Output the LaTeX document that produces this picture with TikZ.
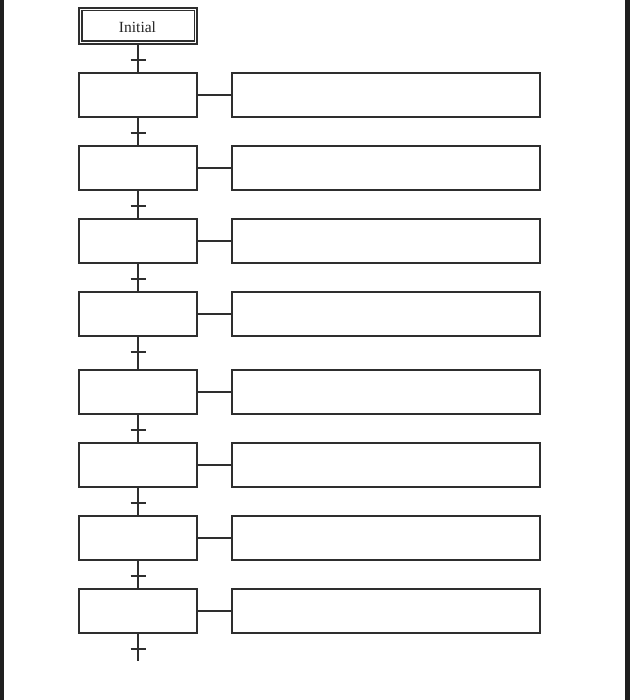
\documentclass[tikz,border=0pt]{standalone}
\usepackage{fontspec}
\setmainfont{Liberation Serif}
\usetikzlibrary{calc}
\begin{document}
\begin{tikzpicture}[x=1pt,y=-1pt,
  line/.style={draw=black!82,line width=1.6pt},
  stepbox/.style={line,rectangle,minimum width=118pt,minimum height=44pt,inner sep=0pt},
  actbox/.style={line,rectangle,minimum width=308pt,minimum height=44pt,inner sep=0pt},
  tick/.style={draw=black!82,line width=1.6pt}]
\useasboundingbox (0,0) rectangle (630,700);
\fill[white] (0,0) rectangle (630,700);
\fill[black!88] (0,0) rectangle (3.5,700);
\fill[black!88] (625,0) rectangle (630,700);
% initial step
\node[stepbox,minimum height=36pt] (init) at (138,26) {};
\draw[line] ([shift={(3.5,3.5)}]init.north west) rectangle ([shift={(-3.5,-3.5)}]init.south east);
\node[font=\fontsize{15.5}{18}\selectfont,text=black!85] (initlabel) at (137.5,27) {Initial};
% steps and actions
\foreach \i/\y in {1/95,2/168,3/241,4/314,5/392,6/465,7/538,8/611}{
  \node[stepbox] (s\i) at (138,\y) {};
  \node[actbox] (a\i) at (386,\y) {};
  \draw[line] (s\i.east) -- (a\i.west);
}
\coordinate (end) at (138,661);
% transitions
\foreach \a/\b in {init/s1,s1/s2,s2/s3,s3/s4,s4/s5,s5/s6,s6/s7,s7/s8,s8/end}{
  \draw[line] (\a.south) -- (\b);
  \draw[tick] ([shift={(-7.5,15)}]\a.south) -- ([shift={(7.5,15)}]\a.south);
}
\end{tikzpicture}
\end{document}
